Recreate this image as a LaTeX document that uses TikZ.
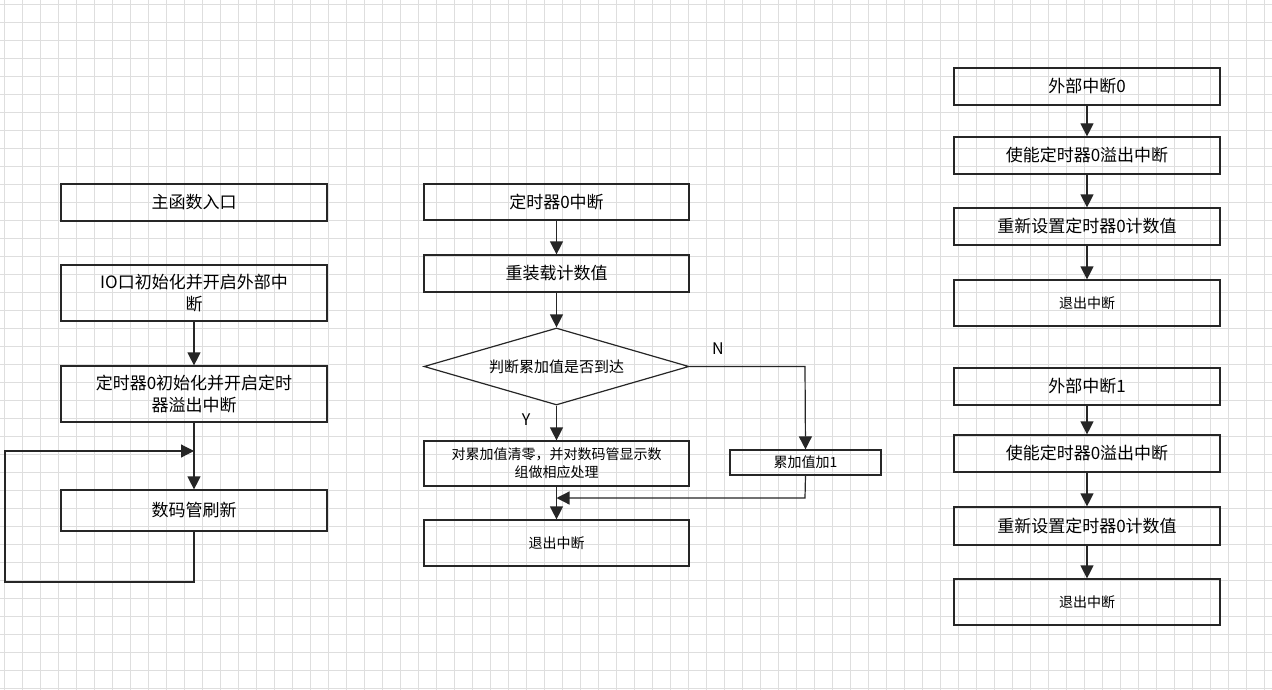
\documentclass[tikz,border=0pt]{standalone}
\usepackage{fontspec}
\setmainfont{Noto Sans CJK SC}
\usetikzlibrary{arrows.meta,shapes.geometric}
\begin{document}
\begin{tikzpicture}[x=1pt,y=-1pt,
 box/.style={draw=black!85,line width=1.2pt,inner sep=0pt,align=center,font=\fontsize{17}{22}\selectfont},
 sbox/.style={box,font=\fontsize{14}{18}\selectfont},
 arr/.style={draw=black!85,line width=1.2pt,-{Triangle[length=13pt,width=13pt]}},
 ln/.style={draw=black!85,line width=1.2pt}]
\useasboundingbox (0,0) rectangle (1272,690);
\fill[white] (0,0) rectangle (1272,690);
\foreach \i in {0,...,70} {\draw[black!13,line width=0.8pt] ({4+18*\i},0) -- ({4+18*\i},690);}
\foreach \i in {0,...,38} {\draw[black!13,line width=0.8pt] (0,{4+18*\i}) -- (1272,{4+18*\i});}
\newcommand{\bx}[6]{\node[#1,minimum width=#4-#3,minimum height=#6-#5] (#2) at ({(#3+#4)/2},{(#5+#6)/2})}
% left
\bx{box}{m1}{61}{327}{184}{221} {主函数入口};
\bx{box}{m2}{61}{327}{265}{321} {IO口初始化并开启外部中\\断};
\bx{box}{m3}{61}{327}{366}{422} {定时器0初始化并开启定时\\器溢出中断};
\bx{box}{m4}{61}{327}{490}{531} {数码管刷新};
\draw[arr] (m2) -- (m3);
\draw[arr] (m3) -- (m4);
\coordinate (lp) at (194,451);
\draw[arr] (m4.south) -- (194,582) -- (5,582) -- (5,451) -- (lp);
% middle
\bx{box}{t1}{424}{689}{184}{220} {定时器0中断};
\bx{box}{t2}{424}{689}{255}{292} {重装载计数值};
\node[diamond,draw=black!85,line width=1.2pt,minimum width=265,minimum height=77,inner sep=0pt,aspect=3.44,font=\fontsize{15}{18}\selectfont] (d) at (556.5,366.5) {判断累加值是否到达};
\bx{sbox}{t3}{424}{689}{441}{486} {对累加值清零，并对数码管显示数\\组做相应处理};
\bx{sbox}{t4}{424}{689}{520}{566} {退出中断};
\bx{sbox}{t5}{730}{881}{450}{475} {累加值加1};
\draw[arr] (t1) -- (t2);
\draw[arr] (t2) -- (d);
\draw[arr] (d.south) -- (t3);
\draw[arr] (t3) -- (t4);
\draw[arr] (d.east) -- (805,366.5) -- (t5.north);
\coordinate (jn) at (556.5,498);
\draw[arr] (t5.south) -- (805,498) -- (jn);
\node[font=\fontsize{16}{18}\selectfont] (nl) at (718,349) {N};
\node[font=\fontsize{16}{18}\selectfont] (yl) at (526,420) {Y};
% right
\bx{box}{r1}{954}{1220}{68}{105} {外部中断0};
\bx{box}{r2}{954}{1220}{137}{174} {使能定时器0溢出中断};
\bx{box}{r3}{954}{1220}{208}{245} {重新设置定时器0计数值};
\bx{sbox}{r4}{954}{1220}{280}{326} {退出中断};
\bx{box}{s1}{954}{1220}{368}{405} {外部中断1};
\bx{box}{s2}{954}{1220}{435}{472} {使能定时器0溢出中断};
\bx{box}{s3}{954}{1220}{507}{545} {重新设置定时器0计数值};
\bx{sbox}{s4}{954}{1220}{579}{625} {退出中断};
\draw[arr] (r1) -- (r2);
\draw[arr] (r2) -- (r3);
\draw[arr] (r3) -- (r4);
\draw[arr] (s1) -- (s2);
\draw[arr] (s2) -- (s3);
\draw[arr] (s3) -- (s4);
\end{tikzpicture}
\end{document}
